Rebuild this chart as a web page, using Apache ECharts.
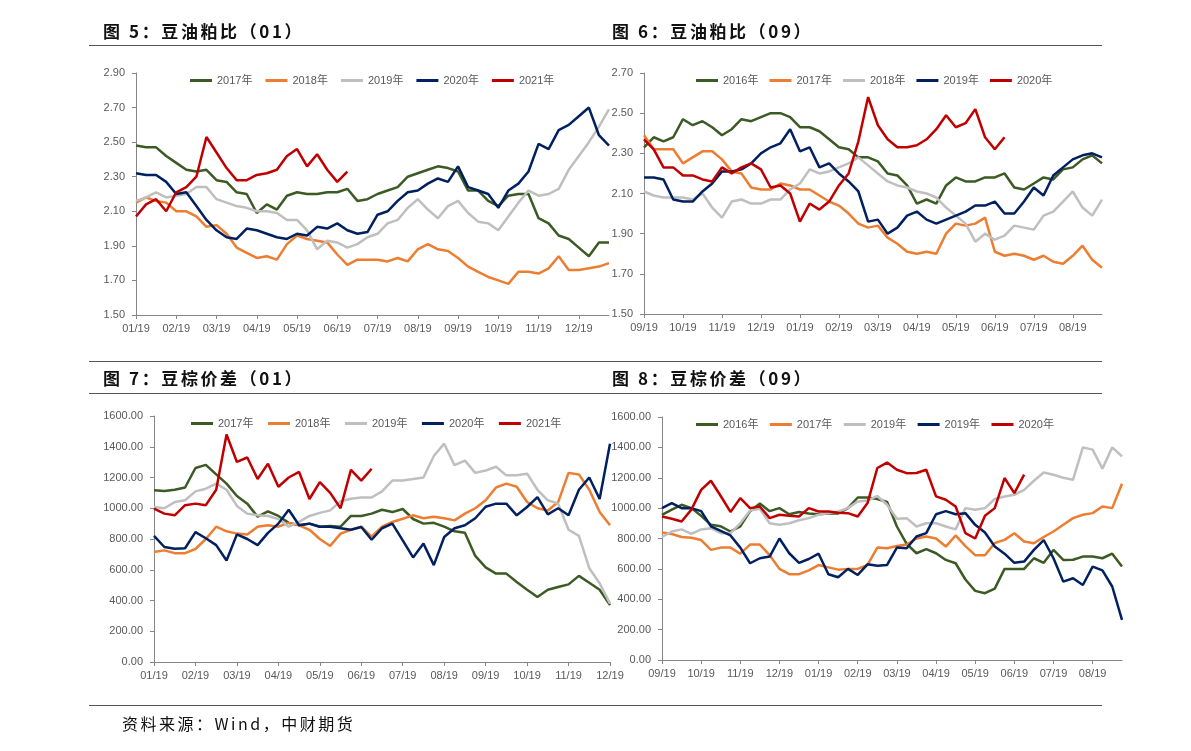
<!DOCTYPE html>
<html>
<head>
<meta charset="utf-8">
<title>豆油粕比 / 豆棕价差</title>
<script src="https://cdn.jsdelivr.net/npm/echarts@6/dist/echarts.min.js"></script>
<style>
  body { margin: 0; background: #fff; }
  .page { position: relative; width: 1191px; height: 751px; overflow: hidden; }
  #main { position: absolute; left: 0; top: 0; width: 1191px; height: 751px; }
  .ttl { position: absolute; font-family: "Noto Sans CJK SC", sans-serif; font-weight: bold;
         font-size: 17px; letter-spacing: 2.6px; line-height: 20px; color: #111; white-space: nowrap; }
  .rule { position: absolute; height: 0; border-top: 1.5px solid #555; }
  .src { position: absolute; font-family: "Noto Sans CJK SC", sans-serif; font-size: 16px;
         letter-spacing: 2.5px; line-height: 20px; color: #111; white-space: nowrap; }
</style>
</head>
<body>
<div class="page">
  <div id="main"></div>
  <div class="ttl" style="left:103px;top:21px;">图 5：豆油粕比（01）</div>
  <div class="ttl" style="left:612px;top:21px;">图 6：豆油粕比（09）</div>
  <div class="ttl" style="left:103px;top:368px;">图 7：豆棕价差（01）</div>
  <div class="ttl" style="left:612px;top:368px;">图 8：豆棕价差（09）</div>
  <div class="rule" style="left:89px;top:45px;width:1013px;"></div>
  <div class="rule" style="left:89px;top:361px;width:1013px;"></div>
  <div class="rule" style="left:89px;top:393px;width:1013px;"></div>
  <div class="rule" style="left:89px;top:705px;width:1013px;"></div>
  <div class="src" style="left:122px;top:713px;">资料来源：Wind，中财期货</div>
</div>
<script>
// 月份刻度
var months01 = ['01/19','02/19','03/19','04/19','05/19','06/19','07/19','08/19','09/19','10/19','11/19','12/19'];
var months09 = ['09/19','10/19','11/19','12/19','01/19','02/19','03/19','04/19','05/19','06/19','07/19','08/19'];
var perMonth = 4; // 每月取4个点（约每周）

// 图5 豆油粕比（01）
var c1_2017 = [2.48,2.47,2.47,2.42,2.38,2.34,2.33,2.34,2.28,2.27,2.21,2.20,2.09,2.14,2.11,2.19,2.21,2.20,2.20,2.21,2.21,2.23,2.16,2.17,2.20,2.22,2.24,2.30,2.32,2.34,2.36,2.35,2.33,2.22,2.22,2.16,2.13,2.19,2.20,2.20,2.06,2.03,1.96,1.94,1.89,1.84,1.92,1.92];
var c1_2018 = [2.15,2.18,2.16,2.15,2.10,2.10,2.07,2.01,2.02,1.97,1.89,1.86,1.83,1.84,1.82,1.91,1.96,1.94,1.93,1.92,1.85,1.79,1.82,1.82,1.82,1.81,1.83,1.81,1.88,1.91,1.88,1.87,1.83,1.78,1.75,1.72,1.70,1.68,1.75,1.75,1.74,1.77,1.84,1.76,1.76,1.77,1.78,1.80];
var c1_2019 = [2.16,2.18,2.21,2.18,2.19,2.20,2.24,2.24,2.17,2.15,2.13,2.12,2.10,2.10,2.09,2.05,2.05,1.99,1.88,1.93,1.92,1.89,1.91,1.95,1.97,2.03,2.05,2.12,2.17,2.11,2.06,2.13,2.16,2.09,2.04,2.03,1.99,2.07,2.15,2.22,2.19,2.20,2.23,2.34,2.42,2.50,2.59,2.69];
var c1_2020 = [2.32,2.31,2.31,2.27,2.20,2.21,2.13,2.05,1.99,1.95,1.94,2.00,1.99,1.97,1.95,1.94,1.97,1.96,2.01,2.00,2.03,1.99,1.97,1.98,2.08,2.10,2.16,2.21,2.22,2.26,2.29,2.27,2.36,2.24,2.22,2.20,2.12,2.22,2.26,2.33,2.49,2.46,2.57,2.60,2.65,2.70,2.54,2.48];
var c1_2021 = [2.07,2.14,2.17,2.10,2.21,2.24,2.30,2.53,2.44,2.35,2.28,2.28,2.31,2.32,2.34,2.42,2.46,2.36,2.43,2.34,2.27,2.33];

// 图6 豆油粕比（09）
var c2_2016 = [2.33,2.38,2.36,2.38,2.47,2.44,2.46,2.43,2.39,2.42,2.47,2.46,2.48,2.50,2.50,2.48,2.43,2.43,2.41,2.37,2.33,2.32,2.28,2.28,2.26,2.20,2.19,2.14,2.05,2.07,2.05,2.14,2.18,2.16,2.16,2.18,2.18,2.20,2.13,2.12,2.15,2.18,2.17,2.22,2.23,2.27,2.29,2.25];
var c2_2017 = [2.39,2.32,2.32,2.32,2.25,2.28,2.31,2.31,2.27,2.21,2.20,2.13,2.12,2.12,2.15,2.14,2.12,2.12,2.09,2.06,2.04,2.00,1.95,1.93,1.94,1.88,1.85,1.81,1.80,1.81,1.80,1.90,1.95,1.94,1.95,1.98,1.81,1.79,1.80,1.79,1.77,1.79,1.76,1.75,1.79,1.84,1.77,1.73];
var c2_2018 = [2.11,2.09,2.08,2.08,2.08,2.07,2.10,2.03,1.98,2.06,2.07,2.05,2.05,2.07,2.07,2.12,2.15,2.22,2.20,2.21,2.23,2.25,2.28,2.24,2.20,2.16,2.14,2.13,2.11,2.10,2.08,2.03,1.99,1.95,1.86,1.90,1.87,1.89,1.94,1.93,1.92,1.99,2.01,2.06,2.11,2.03,1.99,2.07];
var c2_2019 = [2.18,2.18,2.17,2.07,2.06,2.06,2.11,2.15,2.21,2.21,2.22,2.25,2.30,2.33,2.35,2.42,2.31,2.33,2.23,2.25,2.20,2.16,2.11,1.96,1.97,1.90,1.93,1.99,2.01,1.97,1.95,1.97,1.99,2.01,2.04,2.04,2.06,2.00,2.00,2.06,2.13,2.09,2.19,2.23,2.27,2.29,2.30,2.28];
var c2_2020 = [2.37,2.32,2.23,2.23,2.19,2.19,2.17,2.16,2.23,2.20,2.23,2.25,2.22,2.13,2.14,2.10,1.96,2.05,2.02,2.06,2.14,2.20,2.36,2.58,2.44,2.37,2.33,2.33,2.34,2.37,2.42,2.49,2.43,2.45,2.52,2.38,2.32,2.38];

// 图7 豆棕价差（01）
var c3_2017 = [1117,1112,1120,1135,1262,1282,1220,1160,1080,1030,945,980,950,905,890,900,880,885,880,950,950,965,990,975,995,930,900,905,880,850,840,690,615,575,575,520,470,423,470,488,505,560,515,470,370];
var c3_2018 = [715,726,708,708,735,800,880,850,835,830,880,890,880,905,889,860,800,755,835,860,880,815,880,911,932,954,935,945,935,921,965,1000,1052,1135,1160,1140,1041,1000,986,1040,1230,1220,1120,975,890];
var c3_2019 = [1008,1000,1040,1052,1110,1127,1160,1120,1015,965,954,950,930,880,911,950,970,986,1045,1062,1070,1070,1110,1180,1181,1190,1200,1340,1420,1280,1310,1230,1245,1270,1214,1215,1225,1120,1052,1030,860,820,610,512,380];
var c3_2020 = [820,748,737,740,845,805,760,660,830,800,760,840,900,990,889,900,880,880,870,860,878,795,870,900,791,680,770,630,813,870,889,935,1010,1030,1030,954,1008,1073,960,1000,954,1120,1200,1060,1420];
var c3_2021 = [997,965,954,1020,1030,1020,1120,1480,1301,1330,1190,1290,1140,1200,1236,1060,1170,1100,1000,1250,1180,1257];

// 图8 豆棕价差（09）
var c4_2016 = [956,990,1022,1000,950,890,880,846,880,980,1030,980,1000,960,975,965,960,965,965,1000,1070,1070,1060,1040,879,765,703,730,703,659,637,530,455,440,470,600,600,600,670,640,725,659,660,681,681,670,700,615];
var c4_2017 = [840,830,810,805,790,725,740,740,700,760,760,690,600,565,565,590,625,610,595,600,600,626,740,736,750,760,800,813,800,747,820,750,690,690,770,791,835,780,769,810,846,890,934,956,967,1011,1000,1160];
var c4_2019g = [810,846,860,830,860,868,835,835,900,985,995,900,890,900,920,934,956,967,978,1000,1044,1050,1080,1022,930,934,879,900,901,879,860,1000,989,1000,1060,1077,1088,1120,1180,1235,1220,1200,1187,1400,1385,1260,1400,1341];
var c4_2019 = [1000,1033,1000,1000,980,880,850,820,740,637,670,681,800,703,640,665,700,565,545,600,560,630,620,626,740,736,813,835,960,980,960,967,890,840,747,700,640,648,725,790,670,516,538,494,615,590,484,264];
var c4_2020 = [945,930,912,990,1120,1180,1080,975,1066,1000,1011,934,956,950,945,1000,978,978,970,967,945,1033,1264,1300,1253,1230,1231,1253,1077,1055,1011,835,800,950,1000,1198,1099,1220];

var GREEN = '#3b5a24', ORANGE = '#ed7d31', GRAY = '#bfbfbf', NAVY = '#002060', RED = '#c00000';
var FONT = '"Liberation Sans", Arial, "Noto Sans CJK SC", sans-serif';

// 生成类目轴：每月第一个点带月份标签
function makeCats(months, n) {
    var out = [];
    for (var i = 0; i < n; i++) {
        var m = months[Math.min(Math.floor(i / perMonth), months.length - 1)];
        out.push(i % perMonth === 0 ? m : m + '#' + (i % perMonth));
    }
    return out;
}

var panels = [
    { grid: {left: 136, top: 73, width: 473, height: 242}, months: months01, n: 48,
      y: [1.5, 2.9, 0.2], dec: 2, legend: {left: 185, top: 70, gap: 13},
      lines: [['2017年', c1_2017, GREEN], ['2018年', c1_2018, ORANGE], ['2019年', c1_2019, GRAY],
              ['2020年', c1_2020, NAVY], ['2021年', c1_2021, RED]] },
    { grid: {left: 644, top: 73, width: 458, height: 241}, months: months09, n: 48,
      y: [1.5, 2.7, 0.2], dec: 2, legend: {left: 691, top: 70, gap: 11},
      lines: [['2016年', c2_2016, GREEN], ['2017年', c2_2017, ORANGE], ['2018年', c2_2018, GRAY],
              ['2019年', c2_2019, NAVY], ['2020年', c2_2020, RED]] },
    { grid: {left: 154, top: 416, width: 456, height: 246}, months: months01, n: 45,
      y: [0, 1600, 200], dec: 2, legend: {left: 186, top: 413, gap: 14.5},
      lines: [['2017年', c3_2017, GREEN], ['2018年', c3_2018, ORANGE], ['2019年', c3_2019, GRAY],
              ['2020年', c3_2020, NAVY], ['2021年', c3_2021, RED]] },
    { grid: {left: 662, top: 417, width: 460, height: 243}, months: months09, n: 48,
      y: [0, 1600, 200], dec: 2, legend: {left: 691, top: 414, gap: 11.4},
      lines: [['2016年', c4_2016, GREEN], ['2017年', c4_2017, ORANGE], ['2019年', c4_2019g, GRAY],
              ['2019年', c4_2019, NAVY], ['2020年', c4_2020, RED]] }
];

var option = { animation: false, backgroundColor: 'transparent',
               grid: [], xAxis: [], yAxis: [], legend: [], series: [] };

panels.forEach(function (p, k) {
    option.grid.push(p.grid);
    option.xAxis.push({
        type: 'category', gridIndex: k, boundaryGap: false, data: makeCats(p.months, p.n),
        axisLine: {lineStyle: {color: '#868686', width: 1}},
        axisTick: {interval: perMonth - 1, length: 4, lineStyle: {color: '#868686'}},
        axisLabel: {interval: perMonth - 1, margin: 8, fontSize: 11, color: '#595959', fontFamily: FONT},
        splitLine: {show: false}
    });
    option.yAxis.push({
        type: 'value', gridIndex: k, min: p.y[0], max: p.y[1], interval: p.y[2],
        axisLine: {show: true, lineStyle: {color: '#868686', width: 1}},
        axisTick: {show: true, length: 4, lineStyle: {color: '#868686'}},
        axisLabel: {margin: 11, fontSize: 11, color: '#595959', fontFamily: FONT,
                    formatter: function (v) { return v.toFixed(p.dec); }},
        splitLine: {show: false}
    });
    var names = [];
    p.lines.forEach(function (l, j) {
        var nm = 'p' + k + '_' + j + '|' + l[0];
        names.push(nm);
        option.series.push({
            name: nm, type: 'line', xAxisIndex: k, yAxisIndex: k, data: l[1],
            showSymbol: false, symbol: 'none', color: l[2],
            lineStyle: {color: l[2], width: 2.5}
        });
    });
    option.legend.push({
        data: names, left: p.legend.left, top: p.legend.top, itemGap: p.legend.gap,
        icon: 'rect', itemWidth: 22, itemHeight: 3, selectedMode: false,
        formatter: function (n) { return n.split('|')[1]; },
        textStyle: {fontSize: 11, color: '#595959', fontFamily: FONT}
    });
});

var chart = echarts.init(document.getElementById('main'));
chart.setOption(option);
</script>
</body>
</html>
